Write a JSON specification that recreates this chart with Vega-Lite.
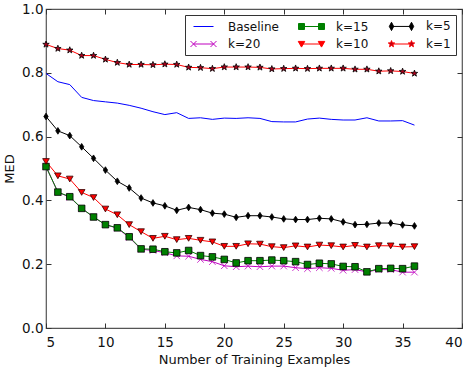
{
  "$schema": "https://vega.github.io/schema/vega-lite/v6.json",
  "width": 416,
  "height": 319,
  "autosize": "none",
  "padding": {"left": 46, "top": 9, "right": 12, "bottom": 39},
  "background": "white",
  "config": {
    "font": "DejaVu Sans",
    "view": {"stroke": "#555", "strokeWidth": 1.2},
    "axis": {
      "grid": false,
      "domain": false,
      "labelFont": "DejaVu Sans",
      "titleFont": "DejaVu Sans",
      "labelFontSize": 13.5,
      "titleFontSize": 13,
      "titleFontWeight": "normal",
      "labelColor": "#111",
      "titleColor": "#111",
      "tickColor": "#333",
      "tickSize": -5
    }
  },
  "data": {
    "values": [
      {"x": 5, "Baseline": 0.798, "k=20": 0.506, "k=15": 0.506, "k=10": 0.522, "k=5": 0.663, "k=1": 0.889},
      {"x": 6, "Baseline": 0.772, "k=20": 0.426, "k=15": 0.426, "k=10": 0.477, "k=5": 0.618, "k=1": 0.876},
      {"x": 7, "Baseline": 0.763, "k=20": 0.41, "k=15": 0.4115, "k=10": 0.467, "k=5": 0.603, "k=1": 0.871},
      {"x": 8, "Baseline": 0.723, "k=20": 0.375, "k=15": 0.375, "k=10": 0.425, "k=5": 0.568, "k=1": 0.854},
      {"x": 9, "Baseline": 0.713, "k=20": 0.348, "k=15": 0.348, "k=10": 0.409, "k=5": 0.532, "k=1": 0.854},
      {"x": 10, "Baseline": 0.709, "k=20": 0.324, "k=15": 0.324, "k=10": 0.373, "k=5": 0.495, "k=1": 0.842},
      {"x": 11, "Baseline": 0.705, "k=20": 0.313, "k=15": 0.314, "k=10": 0.355, "k=5": 0.46, "k=1": 0.832},
      {"x": 12, "Baseline": 0.698, "k=20": 0.284, "k=15": 0.286, "k=10": 0.324, "k=5": 0.439, "k=1": 0.826},
      {"x": 13, "Baseline": 0.689, "k=20": 0.247, "k=15": 0.248, "k=10": 0.302, "k=5": 0.4075, "k=1": 0.826},
      {"x": 14, "Baseline": 0.678, "k=20": 0.243, "k=15": 0.247, "k=10": 0.281, "k=5": 0.392, "k=1": 0.825},
      {"x": 15, "Baseline": 0.669, "k=20": 0.236, "k=15": 0.239, "k=10": 0.2875, "k=5": 0.383, "k=1": 0.827},
      {"x": 16, "Baseline": 0.675, "k=20": 0.226, "k=15": 0.2355, "k=10": 0.277, "k=5": 0.369, "k=1": 0.826},
      {"x": 17, "Baseline": 0.657, "k=20": 0.225, "k=15": 0.243, "k=10": 0.281, "k=5": 0.378, "k=1": 0.817},
      {"x": 18, "Baseline": 0.659, "k=20": 0.215, "k=15": 0.227, "k=10": 0.275, "k=5": 0.371, "k=1": 0.816},
      {"x": 19, "Baseline": 0.654, "k=20": 0.208, "k=15": 0.223, "k=10": 0.27, "k=5": 0.36, "k=1": 0.813},
      {"x": 20, "Baseline": 0.658, "k=20": 0.195, "k=15": 0.215, "k=10": 0.256, "k=5": 0.357, "k=1": 0.818},
      {"x": 21, "Baseline": 0.657, "k=20": 0.192, "k=15": 0.204, "k=10": 0.256, "k=5": 0.347, "k=1": 0.818},
      {"x": 22, "Baseline": 0.659, "k=20": 0.194, "k=15": 0.211, "k=10": 0.264, "k=5": 0.352, "k=1": 0.818},
      {"x": 23, "Baseline": 0.657, "k=20": 0.192, "k=15": 0.211, "k=10": 0.263, "k=5": 0.352, "k=1": 0.817},
      {"x": 24, "Baseline": 0.647, "k=20": 0.194, "k=15": 0.213, "k=10": 0.255, "k=5": 0.348, "k=1": 0.812},
      {"x": 25, "Baseline": 0.646, "k=20": 0.194, "k=15": 0.211, "k=10": 0.252, "k=5": 0.342, "k=1": 0.813},
      {"x": 26, "Baseline": 0.646, "k=20": 0.189, "k=15": 0.208, "k=10": 0.2575, "k=5": 0.34, "k=1": 0.814},
      {"x": 27, "Baseline": 0.655, "k=20": 0.186, "k=15": 0.199, "k=10": 0.254, "k=5": 0.34, "k=1": 0.813},
      {"x": 28, "Baseline": 0.658, "k=20": 0.189, "k=15": 0.203, "k=10": 0.26, "k=5": 0.344, "k=1": 0.814},
      {"x": 29, "Baseline": 0.654, "k=20": 0.187, "k=15": 0.201, "k=10": 0.258, "k=5": 0.342, "k=1": 0.814},
      {"x": 30, "Baseline": 0.652, "k=20": 0.181, "k=15": 0.193, "k=10": 0.254, "k=5": 0.3325, "k=1": 0.814},
      {"x": 31, "Baseline": 0.652, "k=20": 0.183, "k=15": 0.192, "k=10": 0.259, "k=5": 0.324, "k=1": 0.811},
      {"x": 32, "Baseline": 0.659, "k=20": 0.176, "k=15": 0.176, "k=10": 0.254, "k=5": 0.325, "k=1": 0.811},
      {"x": 33, "Baseline": 0.649, "k=20": 0.183, "k=15": 0.186, "k=10": 0.258, "k=5": 0.329, "k=1": 0.805},
      {"x": 34, "Baseline": 0.649, "k=20": 0.183, "k=15": 0.187, "k=10": 0.2575, "k=5": 0.329, "k=1": 0.806},
      {"x": 35, "Baseline": 0.65, "k=20": 0.175, "k=15": 0.186, "k=10": 0.254, "k=5": 0.323, "k=1": 0.804},
      {"x": 36, "Baseline": 0.636, "k=20": 0.175, "k=15": 0.194, "k=10": 0.255, "k=5": 0.32, "k=1": 0.798}
    ]
  },
  "transform": [
    {"fold": ["Baseline", "k=20", "k=15", "k=10", "k=5", "k=1"], "as": ["series", "value"]}
  ],
  "layer": [
    {
      "mark": {"type": "line", "strokeWidth": 1},
      "encoding": {
        "x": {
          "field": "x", "type": "quantitative",
          "scale": {"domain": [5, 40], "nice": false, "zero": false},
          "axis": {"orient": "bottom", "values": [5, 10, 15, 20, 25, 30, 35, 40], "title": "Number of Training Examples", "labelPadding": 12, "titlePadding": 5}
        },
        "y": {
          "field": "value", "type": "quantitative",
          "scale": {"domain": [0, 1], "nice": false, "zero": false},
          "axis": {"orient": "left", "values": [0, 0.2, 0.4, 0.6, 0.8, 1.0], "format": ".1f", "title": "MED", "labelPadding": 8, "titlePadding": 5}
        },
        "color": {
          "field": "series", "type": "nominal",
          "scale": {
            "domain": ["Baseline", "k=20", "k=15", "k=10", "k=5", "k=1"],
            "range": ["#0000ff", "#bf00bf", "#008000", "#ff0000", "#000000", "#ff0000"]
          },
          "legend": {
            "title": null,
            "orient": "top-right",
            "offset": 6,
            "columns": 3,
            "gridAlign": "each",
            "columnPadding": 17,
            "rowPadding": 5,
            "padding": 5,
            "strokeColor": "#333",
            "fillColor": "white",
            "labelFont": "DejaVu Sans",
            "labelFontSize": 12,
            "labelColor": "#111",
            "labelOffset": 26,
            "symbolSize": 100,
            "symbolStrokeWidth": 1,
            "encode": {
              "symbols": {
                "update": {
                  "shape": {"signal": "datum.value === 'Baseline' ? 'M-0.5,0L3.5,0' : datum.value === 'k=20' ? 'M-0.5,0L3.5,0M-1.1,-0.6L0.1,0.6M-1.1,0.6L0.1,-0.6M2.9,-0.6L4.1,0.6M2.9,0.6L4.1,-0.6' : datum.value === 'k=15' ? 'M-0.5,0L3.5,0M-1.1,-0.6L0.1,-0.6L0.1,0.6L-1.1,0.6ZM2.9,-0.6L4.1,-0.6L4.1,0.6L2.9,0.6Z' : datum.value === 'k=10' ? 'M-0.5,0L3.5,0M-1.15,-0.52L0.15,-0.52L-0.5,0.62ZM2.85,-0.52L4.15,-0.52L3.5,0.62Z' : datum.value === 'k=5' ? 'M-0.5,0L3.5,0M-0.5,-0.83L-0.06,0L-0.5,0.83L-0.94,0ZM3.5,-0.83L3.94,0L3.5,0.83L3.06,0Z' : 'M-0.5,0L3.5,0M-0.5,-0.68L-0.33,-0.23L0.14,-0.21L-0.23,0.09L-0.1,0.55L-0.5,0.29L-0.9,0.55L-0.77,0.09L-1.14,-0.21L-0.67,-0.23ZM3.5,-0.68L3.67,-0.23L4.14,-0.21L3.77,0.09L3.9,0.55L3.5,0.29L3.1,0.55L3.23,0.09L2.86,-0.21L3.33,-0.23Z'"},
                  "fill": {"signal": "datum.value === 'k=15' ? '#008000' : datum.value === 'k=10' ? '#ff0000' : datum.value === 'k=5' ? '#000000' : datum.value === 'k=1' ? '#a8001c' : 'transparent'"},
                  "stroke": {"signal": "datum.value === 'Baseline' ? '#0000ff' : datum.value === 'k=20' ? '#bf00bf' : datum.value === 'k=15' ? '#008000' : datum.value === 'k=5' ? '#000000' : '#ff0000'"},
                  "strokeWidth": {"value": 1},
                  "opacity": {"value": 1}
                }
              }
            }
          }
        }
      }
    },
    {
      "transform": [{"filter": "datum.series !== 'Baseline'"}],
      "mark": {"type": "point", "filled": true, "strokeWidth": 0.8, "opacity": 1},
      "encoding": {
        "x": {
          "field": "x", "type": "quantitative",
          "scale": {"domain": [5, 40], "nice": false, "zero": false},
          "axis": {"orient": "top", "values": [5, 10, 15, 20, 25, 30, 35, 40], "labels": false, "title": null}
        },
        "y": {
          "field": "value", "type": "quantitative",
          "scale": {"domain": [0, 1], "nice": false, "zero": false},
          "axis": {"orient": "right", "values": [0, 0.2, 0.4, 0.6, 0.8, 1.0], "labels": false, "title": null}
        },
        "shape": {
          "field": "series", "type": "nominal",
          "scale": {
            "domain": ["k=20", "k=15", "k=10", "k=5", "k=1"],
            "range": ["M-1,-1L1,1M-1,1L1,-1", "square", "triangle-down", "M0,-1L0.65,0L0,1L-0.65,0Z", "M0,-1L0.24,-0.33L0.95,-0.31L0.39,0.13L0.59,0.81L0,0.42L-0.59,0.81L-0.39,0.13L-0.95,-0.31L-0.24,-0.33Z"]
          },
          "legend": null
        },
        "fill": {
          "field": "series", "type": "nominal",
          "scale": {
            "domain": ["k=20", "k=15", "k=10", "k=5", "k=1"],
            "range": ["#bf00bf", "#008000", "#ff0000", "#000000", "#a8001c"]
          },
          "legend": null
        },
        "stroke": {
          "field": "series", "type": "nominal",
          "scale": {
            "domain": ["k=20", "k=15", "k=10", "k=5", "k=1"],
            "range": ["#bf00bf", "#000000", "#330000", "#000000", "#000000"]
          },
          "legend": null
        },
        "size": {
          "field": "series", "type": "nominal",
          "scale": {
            "domain": ["k=20", "k=15", "k=10", "k=5", "k=1"],
            "range": [42, 46, 64, 110, 100]
          },
          "legend": null
        }
      }
    }
  ],
  "resolve": {"axis": {"x": "independent", "y": "independent"}}
}
